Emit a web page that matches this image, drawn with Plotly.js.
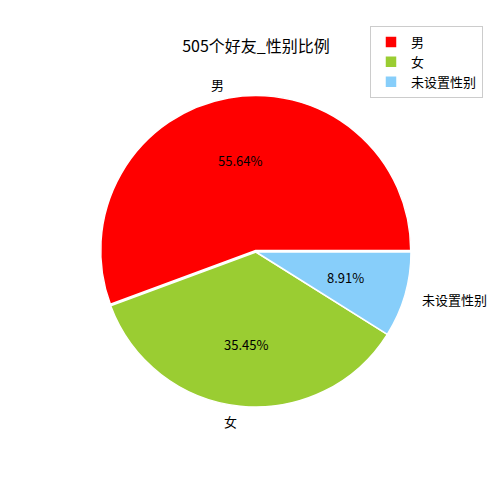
<!DOCTYPE html>
<html>
<head>
<meta charset="utf-8">
<script src="https://cdn.plot.ly/plotly-3.0.1.min.js"></script>
<style>
  html, body { margin: 0; padding: 0; background: white; }
  #chart { width: 500px; height: 500px; }
</style>
</head>
<body>
<div id="chart"></div>
<script>
// 好友性别统计
const labels = ['男', '女', '未设置性别'];
const counts = [281, 179, 45];
const colors = ['red', 'yellowgreen', 'lightskyblue'];
const pulls = [0.01, 0, 0];

const W = 500, H = 500;
// pie centre and radius in pixels
const cx = 256, cy = 252, R = 155;
const fontFam = '"Noto Sans CJK SC", "DejaVu Sans", sans-serif';

let total = counts.reduce((a, b) => a + b, 0);

// labels at 1.1 r, percentages at 0.6 r (matplotlib style)
let annotations = [];
let start = 0;
for (let i = 0; i < counts.length; i++) {
    let frac = counts[i] / total;
    let mid = (start + frac / 2) * 2 * Math.PI;
    start += frac;
    let c = Math.cos(mid), s = Math.sin(mid);

    let lx = cx + 1.1 * R * c, ly = cy - 1.1 * R * s;
    annotations.push({
        text: labels[i],
        x: lx / W, y: 1 - ly / H, xref: 'paper', yref: 'paper',
        xanchor: c < 0 ? 'right' : 'left', yanchor: 'middle',
        showarrow: false,
        font: { size: 13, color: 'black', family: fontFam }
    });

    let px = cx + 0.6 * R * c, py = cy - 0.6 * R * s;
    annotations.push({
        text: (frac * 100).toFixed(2) + '%',
        x: px / W, y: 1 - py / H, xref: 'paper', yref: 'paper',
        xanchor: 'center', yanchor: 'middle',
        showarrow: false,
        font: { size: 13, color: 'black', family: fontFam }
    });
}

let Rd = R * (1 + Math.max(...pulls));

// plotly puts the end of the first ccw slice at 'rotation' (clockwise from 12 o'clock)
// so first slice starts at 3 o'clock going counterclockwise
let rot = 90 - 360 * counts[0] / total;

let data = [{
    type: 'pie',
    labels: labels,
    values: counts,
    sort: false,
    direction: 'counterclockwise',
    rotation: rot,
    pull: pulls,
    marker: { colors: colors, line: { color: 'white', width: 1.5 } },
    textinfo: 'none',
    hoverinfo: 'skip',
    domain: { x: [(cx - Rd) / W, (cx + Rd) / W], y: [1 - (cy + Rd) / H, 1 - (cy - Rd) / H] }
}];

let layout = {
    width: W, height: H,
    margin: { l: 0, r: 0, t: 0, b: 0 },
    paper_bgcolor: 'white',
    font: { family: fontFam, color: 'black' },
    title: {
        text: '505个好友_性别比例',
        x: 256 / W, xanchor: 'center',
        y: 1 - 46 / H, yanchor: 'middle', yref: 'paper',
        font: { size: 16, color: 'black', family: fontFam }
    },
    showlegend: true,
    legend: {
        x: 483 / W, xanchor: 'right',
        y: 1 - 26 / H, yanchor: 'top',
        bordercolor: '#cccccc', borderwidth: 1,
        bgcolor: 'white',
        font: { size: 13, color: 'black', family: fontFam },
        traceorder: 'normal'
    },
    annotations: annotations
};

Plotly.newPlot('chart', data, layout, { staticPlot: true, displayModeBar: false });
</script>
</body>
</html>
